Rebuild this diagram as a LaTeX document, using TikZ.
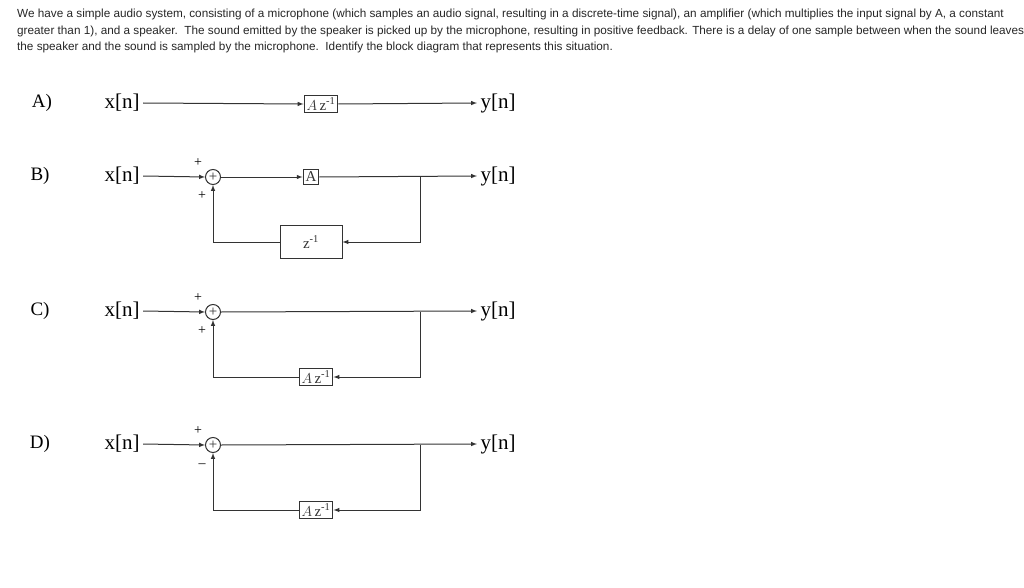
\documentclass[tikz,border=0pt]{standalone}
\usepackage{fontspec}
\setmainfont{Liberation Serif}
\newfontfamily\qfont{Liberation Sans}
\begin{document}
\begin{tikzpicture}[x=1pt,y=-1pt,
  ln/.style={line width=1pt,black!80},
  ar/.style={ln,-latex},
  blk/.style={draw,line width=1pt,black!80,inner sep=2.5pt,font=\fontsize{15}{15}\selectfont},
  sig/.style={font=\fontsize{21}{21}\selectfont},
  lab/.style={font=\fontsize{19}{19}\selectfont},
  sm/.style={font=\fontsize{14}{14}\selectfont},
  summ/.style={draw,circle,line width=1pt,black!80,minimum size=15pt,inner sep=0pt,font=\fontsize{15}{15}\selectfont},
  qt/.style={anchor=west,font=\qfont\fontsize{11.75}{13}\selectfont,text=black!85,inner sep=0pt}]
\useasboundingbox (0,0) rectangle (1024,588);
\node[qt] (t1) at (17,14) {We have a simple audio system, consisting of a microphone (which samples an audio signal, resulting in a discrete-time signal), an amplifier (which multiplies the input signal by A, a constant};
\node[qt] (t2) at (17,31) {greater than 1), and a speaker.\ \ The sound emitted by the speaker is picked up by the microphone, resulting in positive feedback. There is a delay of one sample between when the sound leaves};
\node[qt] (t3) at (17,47) {the speaker and the sound is sampled by the microphone.\ \ Identify the block diagram that represents this situation.};
% A
\node[lab] (la) at (42,103) {A)};
\node[sig] (xa) at (122,103) {x[n]};
\node[blk] (ba) at (321,104) {$A$\,z\textsuperscript{-1}};
\node[sig] (ya) at (498,103) {y[n]};
\draw[ar] (xa.east) -- (ba.west);
\draw[ar] (ba.east) -- (ya.west);
% B
\node[lab] (lb) at (40,176) {B)};
\node[sig] (xb) at (122,176) {x[n]};
\node[summ] (sb) at (213,177) {+};
\node[blk] (bb) at (311,177) {A};
\node[sig] (yb) at (498,176) {y[n]};
\coordinate (jb) at (420,177);
\node[blk,minimum width=62pt,minimum height=33pt] (db) at (311,242) {z\textsuperscript{-1}};
\node[sm] (pb1) at (198,163) {+};
\node[sm] (pb2) at (202,196) {+};
\draw[ar] (xb.east) -- (sb.west);
\draw[ar] (sb.east) -- (bb.west);
\draw[ar] (bb.east) -- (yb.west);
\draw[ar] (jb) |- (db.east);
\draw[ar] (db.west) -| (sb.south);
% C
\node[lab] (lc) at (40,311) {C)};
\node[sig] (xc) at (122,311) {x[n]};
\node[summ] (sc) at (213,312) {+};
\node[sig] (yc) at (498,311) {y[n]};
\coordinate (jc) at (420,312);
\node[blk] (dc) at (316,377) {$A$\,z\textsuperscript{-1}};
\node[sm] (pc1) at (198,298) {+};
\node[sm] (pc2) at (202,331) {+};
\draw[ar] (xc.east) -- (sc.west);
\draw[ar] (sc.east) -- (yc.west);
\draw[ar] (jc) |- (dc.east);
\draw[ar] (dc.west) -| (sc.south);
% D
\node[lab] (ld) at (40,444) {D)};
\node[sig] (xd) at (122,444) {x[n]};
\node[summ] (sd) at (213,445) {+};
\node[sig] (yd) at (498,444) {y[n]};
\coordinate (jd) at (420,445);
\node[blk] (dd) at (316,510) {$A$\,z\textsuperscript{-1}};
\node[sm] (pd1) at (198,431) {+};
\node[sm] (pd2) at (202,466) {--};
\draw[ar] (xd.east) -- (sd.west);
\draw[ar] (sd.east) -- (yd.west);
\draw[ar] (jd) |- (dd.east);
\draw[ar] (dd.west) -| (sd.south);
\end{tikzpicture}
\end{document}
